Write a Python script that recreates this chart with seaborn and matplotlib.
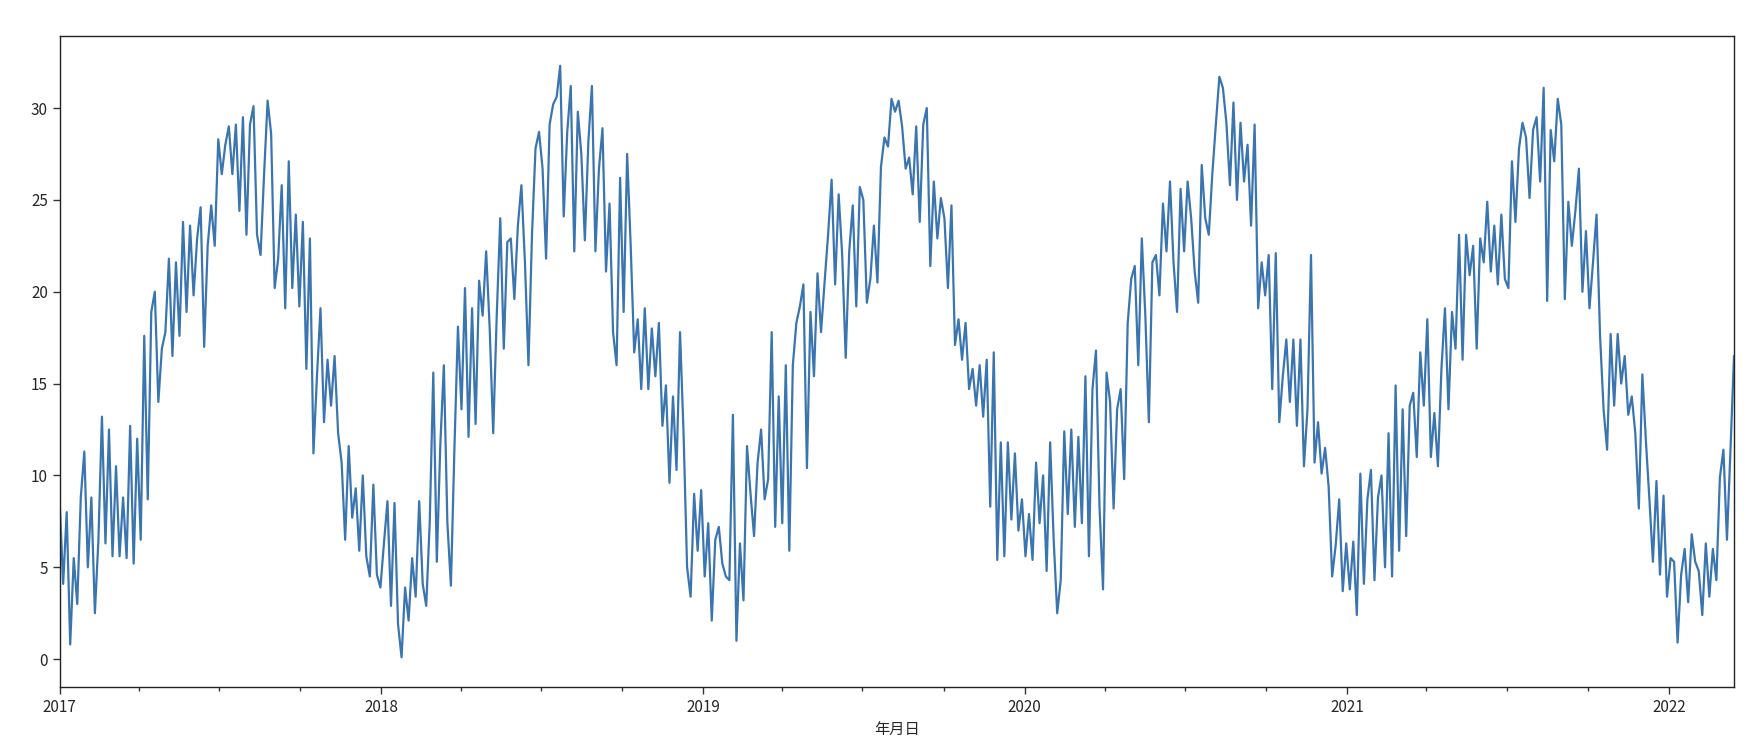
import matplotlib

matplotlib.use("Agg")
import matplotlib.dates as mdates
import matplotlib.pyplot as plt
import numpy as np
import pandas as pd
import seaborn as sns
from matplotlib.ticker import MultipleLocator

# values, one every 4 days from 2017-01-01 to 2022-03-16
temps_2017 = [
    8.6, 4.1, 8.0, 0.8, 5.5, 3.0, 8.8, 11.3, 5.0, 8.8, 2.5, 6.5, 13.2, 6.3, 12.5, 5.6,
    10.5, 5.6, 8.8, 5.5, 12.7, 5.2, 12.0, 6.5, 17.6, 8.7, 18.9, 20.0, 14.0, 16.9, 17.8,
    21.8, 16.5, 21.6, 17.6, 23.8, 18.9, 23.6, 19.8, 22.9, 24.6,
    17.0, 22.5, 24.7, 22.5, 28.3, 26.4, 28.0, 29.0, 26.4, 29.1, 24.4, 29.5, 23.1, 29.1,
    30.1, 23.1, 22.0, 26.4, 30.4, 28.6, 20.2, 21.8, 25.8, 19.1, 27.1, 20.2, 24.2, 19.2,
    23.8, 15.8, 22.9, 11.2, 15.4, 19.1, 12.9, 16.3, 13.8, 16.5, 12.3,
    10.7, 6.5, 11.6, 7.7, 9.3, 5.9, 10.0, 5.6, 4.5, 9.5, 4.6, 3.9,
]
temps_2018 = [
    6.3, 8.6, 2.9, 8.5, 1.9, 0.1, 3.9, 2.1, 5.5, 3.4, 8.6, 4.1, 2.9, 7.5, 15.6, 5.3,
    11.7, 16.0, 7.4, 4.0, 11.5, 18.1, 13.6, 20.2, 12.1, 19.1, 12.8, 20.6,
    18.7, 22.2, 18.0, 12.3, 18.7, 24.0, 16.9, 22.7, 22.9, 19.6, 23.6, 25.8, 21.6, 16.0,
    23.1, 27.8, 28.7, 26.7, 21.8, 29.1, 30.2, 30.6, 32.3, 24.1, 28.7, 31.2, 22.2, 29.8,
    27.5, 22.8, 28.2, 31.2, 22.2, 26.7, 28.9, 21.1, 24.8, 17.8, 16.0, 26.2,
    18.9, 27.5, 22.5, 16.7, 18.5, 14.7, 19.1, 14.7, 18.0, 15.4, 18.3, 12.7, 14.9, 9.6,
    14.3, 10.3, 17.8, 12.3, 5.0, 3.4, 9.0, 5.9, 9.2,
]
temps_2019 = [
    4.5, 7.4, 2.1, 6.5, 7.2, 5.2, 4.5, 4.3, 13.3, 1.0, 6.3, 3.2, 11.6, 9.0, 6.7, 10.7, 12.5,
    8.7, 9.8, 17.8, 7.2, 14.3, 7.4, 16.0, 5.9, 16.0, 18.3, 19.2, 20.4, 10.4, 18.9, 15.4,
    21.0, 17.8, 20.5, 23.1, 26.1, 20.4, 25.3, 22.0, 16.4, 22.2, 24.7, 19.2, 25.7, 25.0,
    19.4, 20.7, 23.6, 20.5, 26.8, 28.4, 27.9, 30.5, 29.8, 30.4,
    29.0, 26.7, 27.3, 25.3, 29.0, 23.8, 29.1, 30.0, 21.4, 26.0, 22.9, 25.1, 24.0, 20.2,
    24.7, 17.1, 18.5, 16.3, 18.3, 14.7, 15.8, 13.8, 16.0, 13.2, 16.3, 8.3, 16.7, 5.4,
    11.8, 5.6, 11.8, 7.6, 11.2, 7.0, 8.7,
]
temps_2020 = [
    5.6, 7.9, 5.4, 10.7, 7.4,
    10.0, 4.8, 11.8, 6.5, 2.5, 4.3, 12.4, 7.9, 12.5, 7.2, 12.1, 7.4, 15.4, 5.6, 14.7,
    16.8, 8.3, 3.8, 15.6, 14.0, 8.2, 13.6, 14.7, 9.8, 18.3, 20.7, 21.4, 16.0, 22.9, 18.7,
    12.9, 21.6, 22.0, 19.8, 24.8, 22.2, 26.0, 21.6, 18.9, 25.6,
    22.2, 26.0, 24.0, 21.1, 19.4, 26.9, 24.0, 23.1, 26.4, 29.1, 31.7, 31.1, 29.2, 25.8,
    30.3, 25.0, 29.2, 26.0, 28.0, 23.6, 29.1, 19.1, 21.6, 19.8, 22.0, 14.7, 22.1, 12.9,
    15.4, 17.4, 14.0, 17.4, 12.7, 17.4, 10.5, 13.6, 22.0, 10.7, 12.9, 10.1,
    11.5, 9.4, 4.5, 6.2, 8.7, 3.7, 6.3,
]
temps_2021 = [
    3.8, 6.4, 2.4, 10.1, 4.1, 8.7, 10.3, 4.3, 8.8, 10.0, 5.0, 12.3, 4.5, 14.9, 5.9, 13.6,
    6.7, 13.8, 14.5, 11.0, 16.7, 13.8, 18.5, 11.0, 13.4, 10.5, 15.8, 19.1, 13.6, 18.9,
    16.9, 23.1,
    16.3, 23.1, 20.9, 22.5, 16.9, 22.9, 21.6, 24.9, 21.1, 23.6, 20.4, 24.2, 20.7, 20.2,
    27.1, 23.8, 27.8, 29.2, 28.4, 25.1, 28.8, 29.5, 26.0, 31.1, 19.5, 28.8, 27.1, 30.5,
    29.1, 19.6, 24.9, 22.5, 24.4, 26.7, 20.0, 23.3, 19.1, 21.6, 24.2, 17.6,
    13.6, 11.4, 17.7, 13.8, 17.7, 15.0, 16.5, 13.3, 14.3, 12.3, 8.2, 15.5, 11.9, 8.7,
    5.3, 9.7, 4.6, 8.9, 3.4,
]
temps_2022 = [
    5.5, 5.3, 0.9, 4.6, 6.0, 3.1, 6.8, 5.3, 4.8, 2.4, 6.3, 3.4, 6.0, 4.3, 9.9, 11.4,
    6.5, 11.4, 16.5,
]

START_DATE = "2017-01-01"
END_DATE = "2022-03-16"
X_LABEL = "年月日"
LINE_COLOR = "#3b75af"


def main() -> None:
    temps = temps_2017 + temps_2018 + temps_2019 + temps_2020 + temps_2021 + temps_2022
    dates = pd.date_range(START_DATE, END_DATE, periods=len(temps))
    frame = pd.DataFrame({"date": dates, "temp": np.array(temps)})

    sns.set_style("ticks")
    plt.rcParams["font.family"] = ["Noto Sans CJK JP", "DejaVu Sans"]

    fig, ax = plt.subplots(figsize=(17.54, 7.54), dpi=100)
    fig.subplots_adjust(left=0.034, right=0.9886, top=0.952, bottom=0.089)

    sns.lineplot(data=frame, x="date", y="temp", color=LINE_COLOR, linewidth=1.6, ax=ax)

    ax.set_xlim(frame["date"].iloc[0], frame["date"].iloc[-1])
    ax.xaxis.set_major_locator(mdates.YearLocator())
    ax.xaxis.set_major_formatter(mdates.DateFormatter("%Y"))
    ax.xaxis.set_minor_locator(mdates.MonthLocator(bymonth=[4, 7, 10]))
    ax.yaxis.set_major_locator(MultipleLocator(5))

    ax.set_xlabel(X_LABEL, fontsize=11)
    ax.set_ylabel("")
    ax.tick_params(axis="both", which="major", labelsize=11, length=5, width=1, color="#333333")
    ax.tick_params(axis="x", which="minor", length=3, width=1, color="#333333")
    for spine in ax.spines.values():
        spine.set_color("#222222")
        spine.set_linewidth(1.0)
    for label in ax.get_xticklabels():
        label.set_rotation(0)
        label.set_horizontalalignment("center")

    fig.savefig("out.png", dpi=100)
    plt.close(fig)


if __name__ == "__main__":
    main()
